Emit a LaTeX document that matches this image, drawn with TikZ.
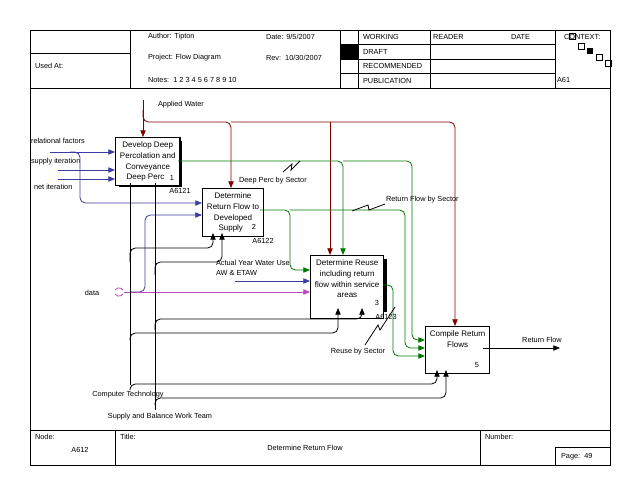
\documentclass[tikz,border=0pt]{standalone}
\usepackage{fontspec}
\setmainfont{Liberation Sans}
\usetikzlibrary{arrows.meta}
\definecolor{dred}{RGB}{128,0,0}
\definecolor{dgreen}{RGB}{0,120,0}
\definecolor{dblue}{RGB}{60,60,160}
\definecolor{dmag}{RGB}{190,70,190}
\begin{document}
\begin{tikzpicture}[x=0.75pt,y=-0.75pt,line width=0.6pt,
  t/.style={font=\fontsize{5.5}{6.5}\selectfont,inner sep=0.5pt},
  box/.style={draw,fill=white,line width=0.8pt,align=center,font=\fontsize{6}{8}\selectfont},
  a/.style={-{Triangle[length=5pt,width=4pt]},rounded corners=4pt}]
\useasboundingbox (0,0) rectangle (638,493);
% frame and header
\draw (30,30) rectangle (610,465);
\draw (30,88) -- (610,88) (30,430) -- (610,430);
\draw (130,30) -- (130,88) (30,53) -- (130,53);
\draw (340,30) -- (340,88) (358,30) -- (358,88) (430,30) -- (430,88) (555,30) -- (555,88);
\foreach \y in {44.5,59,73.5} \draw (340,\y) -- (555,\y);
\fill (340,44.5) rectangle (358,59);
\node[t,anchor=west] at (34,66) {Used At:};
\node[t,anchor=west] at (147,37) {Author: Tipton};
\node[t,anchor=west] at (147,58) {Project: Flow Diagram};
\node[t,anchor=west] at (147,80) {Notes:\ \ 1 2 3 4 5 6 7 8 9 10};
\node[t,anchor=west] at (265,37) {Date: 9/5/2007};
\node[t,anchor=west] at (265,58) {Rev:\ \ 10/30/2007};
\node[t,anchor=west] at (362,37) {WORKING};
\node[t,anchor=west] at (362,51.5) {DRAFT};
\node[t,anchor=west] at (362,66) {RECOMMENDED};
\node[t,anchor=west] at (362,80.5) {PUBLICATION};
\node[t,anchor=west] at (432,37) {READER};
\node[t,anchor=west] at (510,37) {DATE};
\node[t,anchor=west] at (563,37) {CONTEXT:};
\node[t,anchor=west] at (556,80) {A61};
\draw[line width=0.5pt] (569,33) rectangle +(6,6) (578,43) rectangle +(6,6) (596,54) rectangle +(6,6) (605,60) rectangle +(6,6);
\fill (587,48) rectangle +(6,6);
% footer
\draw (115,430) -- (115,465) (480,430) -- (480,465) (555,447) rectangle (610,465);
\node[t,anchor=west] at (34,437) {Node:};
\node[t] at (80,450) {A612};
\node[t,anchor=west] at (119,437) {Title:};
\node[t] at (305,448) {Determine Return Flow};
\node[t,anchor=west] at (484,437) {Number:};
\node[t,anchor=west] at (560,457) {Page:\ \ 49};
% boxes
\foreach \x/\y/\w/\h in {115/137/63/46,202/188/58/45,310/255/73/53}
  \fill (\x+4,\y+4) rectangle +(\w,\h);
\node[box,minimum width=63pt*0.75,minimum height=46pt*0.75,anchor=north west] (b1) at (115,137) {Develop Deep\\Percolation and\\Conveyance\\Deep Perc\ \ \ };
\node[box,minimum width=58pt*0.75,minimum height=45pt*0.75,anchor=north west] (b2) at (202,188) {Determine\\Return Flow to\\Developed\\Supply\ \ \ };
\node[box,minimum width=73pt*0.75,minimum height=53pt*0.75,anchor=north west] (b3) at (310,255) {Determine Reuse\\including return\\flow within service\\areas\\[4pt]};
\node[box,line width=0.6pt,minimum width=58pt*0.75,minimum height=44pt*0.75,anchor=north west] (b5) at (425,326) {Compile Return\\Flows\\[8pt]};
\node[t] at (172,178) {1}; \node[t] at (254,227) {2}; \node[t] at (377,303) {3}; \node[t] at (477,365) {5};
\node[t] at (180,191) {A6121}; \node[t] at (263,241) {A6122}; \node[t] at (386,317) {A6123};
% controls
\coordinate (aw) at (143,100);
\node[t,anchor=west] at (157,105) {Applied Water};
\draw[a,dred] (aw) -- (b1.north -| 143,0);
\draw[a,dred] (143,110) |- (231,122) -- (231,188);
\draw[a,dred] (231,122) -| (455,326);
\draw[a,dred] (330,122) -- (330,255);
% outputs
\draw[a,dgreen] (178,161) -- (343,161) -- (343,255);
\draw[a,dgreen] (343,161) -| (412,340) -- (425,340);
\draw[a,dgreen] (260,210) -| (290,270) -- (310,270);
\draw[a,dgreen] (290,210) -| (405,348) -- (425,348);
\draw[a,dgreen] (383,285) -| (393,356) -- (425,356);
\draw[-{Triangle[length=5pt,width=4pt]}] (483,348) -- (560,348);
\node[t] at (542,340) {Return Flow};
% squiggles
\draw (283,172) -- (292,164) -- (291,170) -- (300,161);
\node[t,anchor=west] at (238,181) {Deep Perc by Sector};
\draw (352,211) -- (368,205) -- (369,210) -- (385,204);
\node[t,anchor=west] at (385,200) {Return Flow by Sector};
\draw (365,345) -- (378,325) -- (380,330) -- (395,307);
\node[t] at (358,352) {Reuse by Sector};
% inputs
\node[t,anchor=west] at (30,141) {relational factors};
\node[t,anchor=west] at (30,162) {supply iteration};
\node[t,anchor=west] at (33,187) {net iteration};
\draw[a,dblue] (50,152) -- (115,152);
\draw[a,dblue] (58,170) -- (115,170);
\draw[a,dblue] (58,179) -- (115,179);
\draw[a,dblue] (70,152) -| (80,203) -- (202,203);
\draw[a,dblue] (130,292) -| (145,215) -- (202,215);
\draw[a,dblue] (235,281) -- (310,281);
\node[t,anchor=west] at (215,263) {Actual Year Water Use};
\node[t,anchor=west] at (215,273) {AW \& ETAW};
\node[t] at (92,293) {data};
\draw[dmag] (115,290) arc (210:330:4.5) (115,294) arc (150:30:4.5);
\draw[a,dmag] (124,292) -- (310,292);
% mechanisms
\draw (130,183) -- (130,385); \draw (155,183) -- (155,410);
\node[t] at (128,395) {Computer Technology};
\node[t] at (160,417) {Supply and Balance Work Team};
\draw[a] (130,262) |- (213,248) -- (213,233);
\draw[a] (155,275) |- (222,262) -- (222,233);
\draw[a] (155,330) |- (362,319) -- (362,308);
\draw[a] (130,340) |- (338,333) -- (338,308);
\draw[a] (130,390) |- (437,384) -- (437,370);
\draw[a] (155,405) |- (446,398) -- (446,370);
\end{tikzpicture}
\end{document}
